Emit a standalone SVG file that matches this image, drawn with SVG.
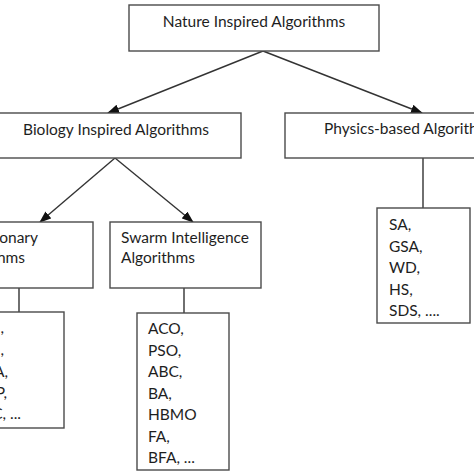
<svg xmlns="http://www.w3.org/2000/svg" width="474" height="474" viewBox="0 0 474 474">
<defs>
<style>
.box{fill:#fff;stroke:#4a4a4a;stroke-width:1.4}
.t{font-family:Lato,"Open Sans","Liberation Sans",sans-serif;font-size:15.5px;fill:#1e1e1e}
.e{text-anchor:end}
.c{text-anchor:middle}
.ln{stroke:#333;stroke-width:1.4;fill:none}
</style>
<marker id="ah" markerUnits="userSpaceOnUse" markerWidth="12" markerHeight="9" refX="11" refY="4.5" orient="auto">
<path d="M0,0 L12,4.5 L0,9 z" fill="#111"/>
</marker>
</defs>
<rect width="474" height="474" fill="#fff"/>
<g id="connectors">
<line class="ln" x1="263" y1="51" x2="108" y2="113" marker-end="url(#ah)"/>
<line class="ln" x1="263" y1="51" x2="422" y2="113" marker-end="url(#ah)"/>
<line class="ln" x1="115" y1="158" x2="40" y2="222" marker-end="url(#ah)"/>
<line class="ln" x1="115" y1="158" x2="193" y2="222" marker-end="url(#ah)"/>
<line class="ln" x1="19" y1="288" x2="19" y2="312"/>
<line class="ln" x1="184" y1="288" x2="184" y2="313"/>
<line class="ln" x1="423" y1="158" x2="423" y2="208"/>
</g>
<g id="nature">
<rect class="box" x="129" y="5" width="250" height="46"/>
<text class="t c" x="254" y="27">Nature Inspired Algorithms</text>
</g>
<g id="biology">
<rect class="box" x="-2" y="113" width="243" height="45"/>
<text class="t c" x="116" y="135">Biology Inspired Algorithms</text>
</g>
<g id="physics">
<rect class="box" x="285" y="113" width="200" height="45"/>
<text class="t" x="324" y="134">Physics-based Algorithms</text>
</g>
<g id="evolutionary">
<rect class="box" x="-2" y="222" width="95" height="66"/>
<text class="t e" x="38" y="243">Evolutionary</text>
<text class="t e" x="25" y="263">Algorithms</text>
</g>
<g id="swarm">
<rect class="box" x="110" y="222" width="151" height="66"/>
<text class="t" x="121" y="243">Swarm Intelligence</text>
<text class="t" x="121" y="263">Algorithms</text>
</g>
<g id="evo-list">
<rect class="box" x="-2" y="312" width="66" height="116"/>
<text class="t e" x="4" y="333">,</text>
<text class="t e" x="4" y="355">,</text>
<text class="t e" x="8" y="377">A,</text>
<text class="t e" x="7" y="398">P,</text>
<text class="t e" x="21" y="419">C, ...</text>
</g>
<g id="swarm-list">
<rect class="box" x="137" y="313" width="92" height="157"/>
<text class="t" x="148" y="334">ACO,</text>
<text class="t" x="148" y="356">PSO,</text>
<text class="t" x="148" y="377">ABC,</text>
<text class="t" x="148" y="399">BA,</text>
<text class="t" x="148" y="420">HBMO</text>
<text class="t" x="148" y="442">FA,</text>
<text class="t" x="148" y="463">BFA, ...</text>
</g>
<g id="physics-list">
<rect class="box" x="377" y="208" width="93" height="115"/>
<text class="t" x="389" y="230">SA,</text>
<text class="t" x="389" y="252">GSA,</text>
<text class="t" x="389" y="273">WD,</text>
<text class="t" x="389" y="295">HS,</text>
<text class="t" x="389" y="316">SDS, ....</text>
</g>
</svg>
